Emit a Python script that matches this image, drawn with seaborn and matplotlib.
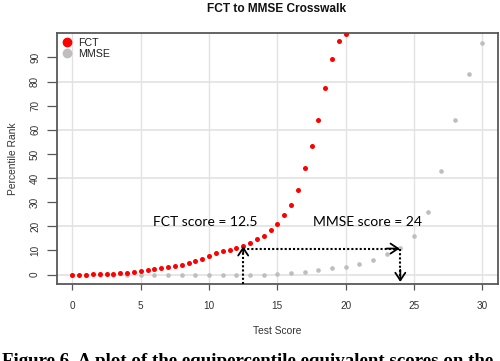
import matplotlib
matplotlib.use("Agg")
import matplotlib.pyplot as plt
import seaborn as sns
import pandas as pd
from matplotlib.lines import Line2D

# ---------------- data ----------------
fct_scores = [0, 0.5, 1, 1.5, 2, 2.5, 3, 3.5, 4, 4.5, 5, 5.5, 6, 6.5, 7, 7.5,
              8, 8.5, 9, 9.5, 10, 10.5, 11, 11.5, 12, 12.5, 13, 13.5, 14, 14.5,
              15, 15.5, 16, 16.5, 17, 17.5, 18, 18.5, 19, 19.5, 20]
fct_pct = [0, 0, 0, 0.1, 0.15, 0.3, 0.45, 0.6, 0.85, 1.1, 1.6, 2.1, 2.4, 2.6,
           3.1, 3.4, 4.0, 5.0, 5.7, 6.6, 7.8, 9.0, 9.7, 10.3, 11.0, 12.0, 13.2,
           14.6, 16.1, 18.6, 21.0, 24.6, 28.8, 35.0, 44.1, 53.5, 64.1, 77.4,
           89.4, 96.8, 99.8]

mmse_scores = [0, 1, 2, 3, 4, 5, 6, 7, 8, 9, 10, 11, 12, 13, 14, 15, 16, 17,
               18, 19, 20, 21, 22, 23, 24, 25, 26, 27, 28, 29, 30]
mmse_pct = [0, 0, 0, 0, 0, 0, 0, 0, 0, 0, 0, 0, 0, 0, 0, 0.1, 0.7, 1.2, 1.9,
            2.6, 3.3, 4.4, 6.2, 8.4, 11.0, 16.2, 25.8, 43.0, 63.9, 83.1, 96.0]

x_ticks = [0, 5, 10, 15, 20, 25, 30]
y_ticks = [0, 10, 20, 30, 40, 50, 60, 70, 80, 90]
series_names = ["FCT", "MMSE"]
title_text = "FCT to MMSE Crosswalk"
x_label = "Test Score"
y_label = "Percentile Rank"
fct_equiv = 12.5
mmse_equiv = 24
equiv_pct = 10.8
fct_note = "FCT score = 12.5"
mmse_note = "MMSE score = 24"
caption = "Figure 6. A plot of the equipercentile equivalent scores on the"

fct_df = pd.DataFrame({"score": fct_scores, "pct": fct_pct})
mmse_df = pd.DataFrame({"score": mmse_scores, "pct": mmse_pct})

# ---------------- style ----------------
sns.set_theme(style="white")
plt.rcParams["font.family"] = ["Liberation Sans", "DejaVu Sans"]

RED = "#ff0000"
GRAY = "#bebebe"
GRID = "#e2e2e2"
FRAME = "#585858"
TXT = "#333333"

fig = plt.figure(figsize=(5.0, 3.61), dpi=100)
ax = fig.add_axes([0.1134, 0.2125, 0.8826, 0.6953])
ax.set_xlim(-1.15, 31.15)
ax.set_ylim(-4, 100)

for gx in [0, 5, 10, 15, 20, 25, 30]:
    ax.axvline(gx, color=GRID, lw=1.0, zorder=0)
for gy in [0, 20, 40, 60, 80]:
    ax.axhline(gy, color=GRID, lw=1.2, zorder=0)

sns.scatterplot(data=mmse_df, x="score", y="pct", color=GRAY, s=11,
                linewidth=0, ax=ax, zorder=3, legend=False)
sns.scatterplot(data=fct_df, x="score", y="pct", color=RED, s=13,
                linewidth=0, ax=ax, zorder=4, legend=False)

# arrows (dotted lines + open chevrons)
dot = dict(color="black", lw=1.5, linestyle=(0, (1, 1)), zorder=5)
ax.plot([fct_equiv, fct_equiv], [-4, equiv_pct + 0.5], **dot)
ax.plot([fct_equiv, mmse_equiv - 0.1], [equiv_pct, equiv_pct], **dot)
ax.plot([mmse_equiv, mmse_equiv], [equiv_pct, -3.2], **dot)
head = dict(arrowstyle="->,head_length=0.45,head_width=0.3", color="black",
            lw=1.3, shrinkA=0, shrinkB=0)
ax.annotate("", xy=(fct_equiv, equiv_pct + 0.9), xytext=(fct_equiv, equiv_pct - 2),
            arrowprops=head, zorder=6)
ax.annotate("", xy=(mmse_equiv - 0.05, equiv_pct), xytext=(mmse_equiv - 1, equiv_pct),
            arrowprops=head, zorder=6)
ax.annotate("", xy=(mmse_equiv, -3.0), xytext=(mmse_equiv, 2),
            arrowprops=head, zorder=6)

ax.text(5.88, 20, fct_note, fontsize=10, family=["Lato", "DejaVu Sans"],
        color="black", ha="left", va="baseline", zorder=6)
ax.text(17.63, 20, mmse_note, fontsize=10, family=["Lato", "DejaVu Sans"],
        color="black", ha="left", va="baseline", zorder=6)

# axes / ticks
ax.set_xticks(x_ticks)
ax.set_xticklabels([str(t) for t in x_ticks])
ax.set_yticks(y_ticks)
ax.set_yticklabels([str(t) for t in y_ticks], rotation=90, va="center")
ax.tick_params(axis="x", length=4, width=0.9, color=FRAME, pad=8,
               labelsize=7.2, labelcolor=TXT, bottom=True)
ax.tick_params(axis="y", length=7, width=0.9, color=FRAME, pad=5,
               labelsize=7.2, labelcolor=TXT, left=True)
for sp in ax.spines.values():
    sp.set_visible(True)
    sp.set_color(FRAME)
    sp.set_linewidth(1.3)

ax.set_xlabel(x_label, fontsize=7.4, color=TXT)
ax.xaxis.set_label_coords(0.5, -0.165)
ax.set_ylabel(y_label, fontsize=7.4, color=TXT)
ax.yaxis.set_label_coords(-0.088, 0.5)

fig.text(277 / 500, 1 - 11.7 / 361, title_text, ha="center", va="baseline",
         fontsize=8.6, fontweight="bold", color="#111111")

handles = [Line2D([], [], marker="o", linestyle="", color=RED, markersize=6),
           Line2D([], [], marker="o", linestyle="", color=GRAY, markersize=6)]
leg = ax.legend(handles, series_names, loc="upper left", bbox_to_anchor=(0, 1),
                frameon=False, fontsize=7.7, handlelength=1.0, handletextpad=0.6,
                labelspacing=0.1, borderaxespad=0.0, borderpad=0.45)
for t in leg.get_texts():
    t.set_color("#222222")

fig.text(2 / 500, 1 - 365.5 / 361, caption, ha="left", va="baseline",
         fontsize=13.6, fontweight="bold", family=["Liberation Serif", "DejaVu Serif"],
         color="black")

fig.savefig("out.png", dpi=100)
